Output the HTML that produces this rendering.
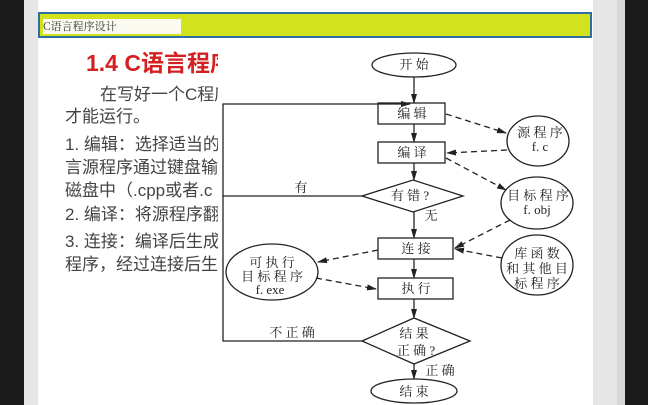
<!DOCTYPE html>
<html><head><meta charset="utf-8"><style>
body{margin:0;width:648px;height:405px;overflow:hidden;background:#1a1a1a;position:relative;font-family:"Liberation Sans","Noto Sans CJK SC",sans-serif}
.gray{position:absolute;left:24px;top:0;width:601px;height:405px;background:#e6e6e6}
.slide{position:absolute;left:38px;top:0;width:555px;height:405px;background:#fff}
.hdr{position:absolute;left:38px;top:12px;width:554px;height:26px;background:#d2e31e;border:2px solid #2f6fa0;box-sizing:border-box}
.hdr .lab{position:absolute;left:3px;top:5px;width:138px;height:15px;background:#fafaf0;font-family:"Noto Serif CJK SC",serif;font-size:11px;color:#333;line-height:15px}
.t{position:absolute;color:#444;font-size:17px;white-space:nowrap;overflow:hidden;line-height:20px}
.strip{position:absolute;left:617px;top:0;width:8px;height:405px;background:#d8d8d8}
</style></head><body>
<div class="gray"></div><div class="slide"></div><div class="strip"></div>
<div class="hdr"><div class="lab">C语言程序设计</div></div>
<div class="t" style="left:86px;top:50px;color:#d42020;font-size:23px;line-height:26px;font-weight:bold;width:132px">1.4 C语言程序</div>
<div class="t" style="left:100px;top:85px;width:118px">在写好一个C程序</div>
<div class="t" style="left:65px;top:107px">才能运行。</div>
<div class="t" style="left:65px;top:135px;width:153px">1. 编辑：选择适当的</div>
<div class="t" style="left:65px;top:158px;width:153px">言源程序通过键盘输</div>
<div class="t" style="left:65px;top:181px;width:153px">磁盘中（.cpp或者.c</div>
<div class="t" style="left:65px;top:205px;width:153px">2. 编译：将源程序翻</div>
<div class="t" style="left:65px;top:232px;width:153px">3. 连接：编译后生成</div>
<div class="t" style="left:65px;top:255px;width:153px">程序，经过连接后生</div>
<svg style="position:absolute;left:0;top:0" width="648" height="405" font-family="Liberation Serif,Noto Serif CJK SC,serif" font-size="13" fill="#222">
<defs><marker id="a" markerWidth="10" markerHeight="8" refX="9" refY="4" orient="auto" markerUnits="userSpaceOnUse"><path d="M0,1 L10,4 L0,7z" fill="#222"/></marker></defs>
<g stroke="#222" stroke-width="1.3" fill="none">
<ellipse cx="414" cy="65" rx="42" ry="12" fill="#fff"/>
<rect x="378" y="103" width="67" height="21" fill="#fff"/>
<rect x="378" y="142" width="67" height="21" fill="#fff"/>
<polygon points="362,196 413,180 463,196 413,212" fill="#fff"/>
<rect x="378" y="238" width="75" height="21" fill="#fff"/>
<rect x="378" y="278" width="75" height="21" fill="#fff"/>
<polygon points="362,341 414,318 470,341 414,364" fill="#fff"/>
<ellipse cx="414" cy="391" rx="43" ry="12" fill="#fff"/>
<ellipse cx="538" cy="141" rx="31" ry="25"/>
<ellipse cx="537" cy="203" rx="36" ry="26"/>
<ellipse cx="537" cy="265" rx="36" ry="30"/>
<ellipse cx="272" cy="272" rx="46" ry="28"/>
<path d="M414,77V103" marker-end="url(#a)"/>
<path d="M414,124V142" marker-end="url(#a)"/>
<path d="M414,163V180" marker-end="url(#a)"/>
<path d="M414,212V238" marker-end="url(#a)"/>
<path d="M414,259V278" marker-end="url(#a)"/>
<path d="M414,299V318" marker-end="url(#a)"/>
<path d="M414,364V379" marker-end="url(#a)"/>
<path d="M362,196H223V104H410" marker-end="url(#a)"/>
<path d="M362,341H223V196"/>
<g stroke-dasharray="6,4">
<path d="M446,114L506,133" marker-end="url(#a)"/>
<path d="M507,150L447,153" marker-end="url(#a)"/>
<path d="M446,158L506,190" marker-end="url(#a)"/>
<path d="M510,220L455,248" marker-end="url(#a)"/>
<path d="M502,258L455,249" marker-end="url(#a)"/>
<path d="M378,250L318,262" marker-end="url(#a)"/>
<path d="M316,278L376,289" marker-end="url(#a)"/>
</g></g>
<g text-anchor="middle">
<text x="414" y="69">开 始</text>
<text x="412" y="118">编 辑</text>
<text x="412" y="157">编 译</text>
<text x="410" y="200">有 错 ?</text>
<text x="416" y="253">连 接</text>
<text x="416" y="293">执 行</text>
<text x="414" y="338">结 果</text>
<text x="416" y="355">正 确 ?</text>
<text x="414" y="396">结 束</text>
<text x="540" y="137">源 程 序</text>
<text x="540" y="151">f. c</text>
<text x="538" y="200">目 标 程 序</text>
<text x="537" y="214">f. obj</text>
<text x="537" y="258">库 函 数</text>
<text x="537" y="273">和 其 他 目</text>
<text x="537" y="288">标 程 序</text>
<text x="272" y="267">可 执 行</text>
<text x="272" y="281">目 标 程 序</text>
<text x="270" y="294">f. exe</text>
<text x="301" y="192">有</text>
<text x="431" y="220">无</text>
<text x="292" y="337">不 正 确</text>
<text x="440" y="375">正 确</text>
</g></svg>
</body></html>
